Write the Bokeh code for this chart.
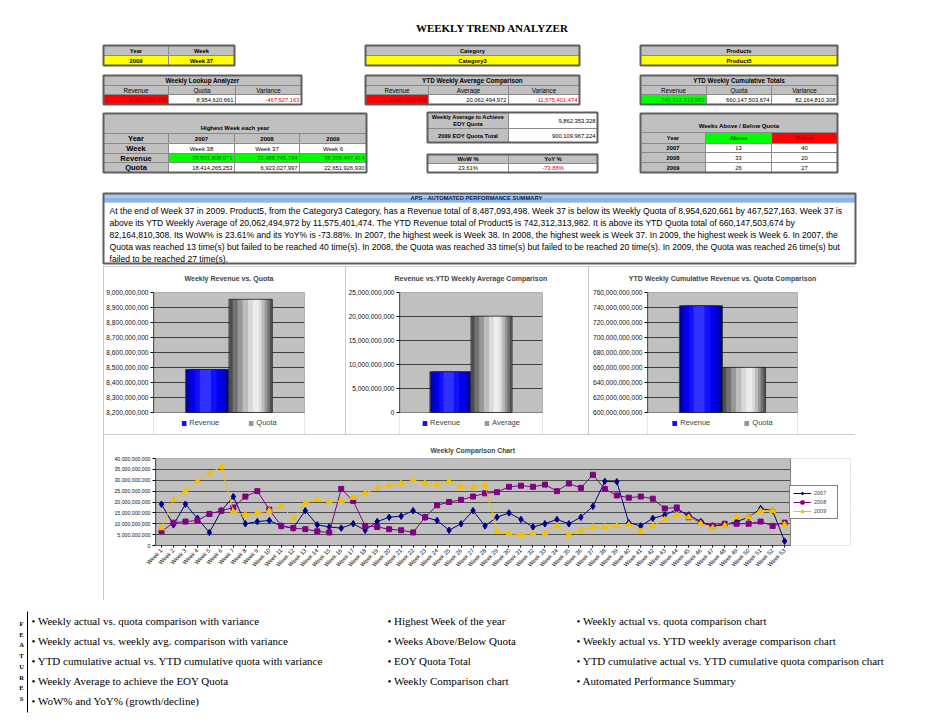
import math
from bokeh.plotting import figure
from bokeh.models import (Range1d, FixedTicker, NumeralTickFormatter,
                          Legend, LegendItem, Spacer)
from bokeh.layouts import column, row
from bokeh.core.properties import value
from bokeh.embed import file_html
from bokeh.resources import INLINE

SANS = "Liberation Sans"
SERIF = "Liberation Serif"

# ------------------------------------------------------------------ data
sel_year = "2009"
sel_week = "Week 37"
sel_category = "Category3"
sel_product = "Product5"

weekly_revenue = 8487093498
weekly_quota = 8954620661
weekly_variance = -467527163

ytd_weekly_avg = 20062494972
ytd_avg_variance = -11575401474

ytd_cum_revenue = 742312313982
ytd_cum_quota = 660147503674
ytd_cum_variance = 82164810308

hw_years = ["2007", "2008", "2009"]
hw_weeks = ["Week 38", "Week 37", "Week 6"]
hw_revenue = [29501608071, 32486745194, 36326447414]
hw_quota = [18414265253, 6923027997, 22651926930]

eoy_weekly_avg = 9862353328
eoy_quota_total = 900109967224
wow_pct = "23.61%"
yoy_pct = "-73.88%"

ab_years = ["2007", "2008", "2009"]
ab_above = [13, 33, 26]
ab_below = [40, 20, 27]

summary_lines = [
    "At the end of Week 37 in 2009. Product5, from the Category3 Category, has a Revenue total of 8,487,093,498. Week 37 is below its Weekly Quota of 8,954,620,661 by 467,527,163. Week 37 is",
    "above its YTD Weekly Average of 20,062,494,972 by 11,575,401,474.  The YTD Revenue total of Product5 is 742,312,313,982. It is above its YTD Quota total of 660,147,503,674 by",
    "82,164,810,308. Its WoW% is 23.61% and its YoY% is -73.88%. In 2007, the highest week is Week 38. In 2008, the highest week is Week 37. In 2009, the highest week is Week 6. In 2007, the",
    "Quota was reached 13 time(s) but failed to be reached 40 time(s). In 2008, the Quota was reached 33 time(s) but failed to be reached 20 time(s). In 2009, the Quota was reached 26 time(s) but",
    "failed to be reached 27 time(s).",
]

week_nums = list(range(1, 54))
weeks = ["Week %d" % i for i in week_nums]
# weekly revenue, billions
rev_2007 = [19, 9.5, 19, 12.5, 6, 16, 22.5, 10, 11, 11.5, 9, 8, 16, 9.5, 8.5, 8, 10, 7,
            11, 13, 13.5, 16, 13, 11.5, 7, 10, 16, 9, 13, 15, 12, 8.5, 10, 12, 10, 13,
            18, 29.5, 29.3, 10.5, 9, 12.5, 14, 16.5, 14, 11, 9, 9.5, 11, 13, 17, 16, 2]
rev_2008 = [6.5, 10.5, 11, 11.5, 14.5, 16, 17.5, 22.5, 25, 16.5, 9, 8, 7.5, 6.5, 6, 26,
            20.5, 9, 8.5, 7.5, 7, 6, 13, 18.5, 20, 21, 22.5, 24, 24.5, 27, 27.5, 27, 28,
            25, 28.5, 26.5, 32.5, 26, 23, 22, 22.5, 21.5, 17, 17.5, 13, 10.5, 9, 10, 10,
            10, 11, 9, 10.5]
rev_2009 = [8, 21, 25, 29.5, 33, 36.3, 15.5, 14, 15, 16, 18, 12.5, 19.5, 21, 20, 20.5,
            22, 24, 26.5, 27.5, 28.5, 30, 28.5, 28, 29.5, 27, 26.5, 28, 6.5, 5.5, 5,
            5.5, 5.5, 9, 5, 7, 8.5, 8.5, 9, 9.5, 6.5, 9, 12, 14, 13, 10, 8, 9, 13, 13,
            16, 16, 9.5]

bar1_names = ["Revenue", "Quota"]
bar1_values = [weekly_revenue, weekly_quota]
bar1_ticks = [8.2e9, 8.3e9, 8.4e9, 8.5e9, 8.6e9, 8.7e9, 8.8e9, 8.9e9, 9.0e9]

bar2_names = ["Revenue", "Average"]
bar2_values = [weekly_revenue, ytd_weekly_avg]
bar2_ticks = [0, 5e9, 10e9, 15e9, 20e9, 25e9]

bar3_names = ["Revenue", "Quota"]
bar3_values = [ytd_cum_revenue, ytd_cum_quota]
bar3_ticks = [600e9, 620e9, 640e9, 660e9, 680e9, 700e9, 720e9, 740e9, 760e9]

line_ticks = [0, 5e9, 10e9, 15e9, 20e9, 25e9, 30e9, 35e9, 40e9]

feat_col1 = ["\u2022 Weekly actual vs. quota comparison with variance",
             "\u2022 Weekly actual vs. weekly avg. comparison with variance",
             "\u2022 YTD cumulative actual vs. YTD cumulative quota with variance",
             "\u2022 Weekly Average to achieve the EOY Quota",
             "\u2022 WoW% and YoY% (growth/decline)"]
feat_col2 = ["\u2022 Highest Week of the year",
             "\u2022 Weeks Above/Below Quota",
             "\u2022 EOY Quota Total",
             "\u2022 Weekly Comparison chart"]
feat_col3 = ["\u2022 Weekly actual vs. quota comparison chart",
             "\u2022 Weekly actual vs. YTD weekly average comparison chart",
             "\u2022 YTD cumulative actual vs. YTD cumulative quota comparison chart",
             "\u2022 Automated Performance Summary"]
feat_letters = list("FEATURES")

# ------------------------------------------------------------------ styles
GRAY = "#c0c0c0"
YELLOW = "#ffff00"
RED = "#ff0000"
GREEN = "#00ff00"
BOX_STYLE = {"outline": "1px solid #b8b8b8", "outline-offset": "-1px"}


def fmt(v):
    return "{:,}".format(v)


def canvas(w, h, x0, y0):
    p = figure(width=w, height=h, x_range=Range1d(x0, x0 + w), y_range=Range1d(y0 + h, y0),
               x_axis_type=None, y_axis_type=None, toolbar_location=None,
               output_backend="svg", min_border=0)
    p.outline_line_color = None
    p.background_fill_color = "white"
    return p


def txt(p, x, y, s, size="6px", bold=False, align="center", color="black",
        font=SANS, baseline="middle"):
    p.text(x=[x], y=[y], text=[s], text_font=value(font), text_font_size=size,
           text_font_style="bold" if bold else "normal", text_align=align,
           text_baseline=baseline, text_color=color)


def table(p, cols, rows, cells):
    for cl in cells:
        r, c = cl["r"], cl["c"]
        span = cl.get("span", 1)
        x0, x1 = cols[c], cols[c + span]
        y0, y1 = rows[r], rows[r + 1]
        p.quad(left=x0, right=x1, top=y0, bottom=y1, fill_color=cl.get("fill", "white"),
               line_color="#8a8a8a", line_width=1)
        align = cl.get("align", "center")
        tx = {"center": (x0 + x1) / 2, "right": x1 - 2, "left": x0 + 2}[align]
        ty = cl.get("ty", (y0 + y1) / 2)
        txt(p, tx, ty, cl["t"], size=cl.get("size", "5.8px"), bold=cl.get("bold", False),
            align=align, color=cl.get("color", "black"))
    p.quad(left=cols[0], right=cols[-1], top=rows[0], bottom=rows[-1], fill_color=None,
           line_color="#5e5e5e", line_width=2)


# ------------------------------------------------------------------ top section
top = canvas(940, 266, 0, 0)
txt(top, 492, 27, "WEEKLY TREND ANALYZER", size="11px", bold=True, font=SERIF)

H = dict(fill=GRAY, bold=True)
table(top, [103, 168, 234], [45, 55, 65], [
    dict(r=0, c=0, t="Year", **H), dict(r=0, c=1, t="Week", **H),
    dict(r=1, c=0, t=sel_year, fill=YELLOW, bold=True),
    dict(r=1, c=1, t=sel_week, fill=YELLOW, bold=True)])
table(top, [365, 579], [45, 55, 65], [
    dict(r=0, c=0, t="Category", **H),
    dict(r=1, c=0, t=sel_category, fill=YELLOW, bold=True)])
table(top, [640, 837], [45, 55, 65], [
    dict(r=0, c=0, t="Products", **H),
    dict(r=1, c=0, t=sel_product, fill=YELLOW, bold=True)])

table(top, [103, 168, 235, 301], [75, 85, 94, 104], [
    dict(r=0, c=0, span=3, t="Weekly Lookup Analyzer", fill=GRAY, bold=True, size="6.3px"),
    dict(r=1, c=0, t="Revenue", fill=GRAY, size="6.3px"),
    dict(r=1, c=1, t="Quota", fill=GRAY, size="6.3px"),
    dict(r=1, c=2, t="Variance", fill=GRAY, size="6.3px"),
    dict(r=2, c=0, t=fmt(weekly_revenue), fill=RED, color="#b00000", align="right"),
    dict(r=2, c=1, t=fmt(weekly_quota), align="right"),
    dict(r=2, c=2, t=fmt(weekly_variance), align="right", color="#e00000")])
table(top, [365, 428, 508, 579], [75, 85, 94, 104], [
    dict(r=0, c=0, span=3, t="YTD Weekly Average Comparison", fill=GRAY, bold=True, size="6.3px"),
    dict(r=1, c=0, t="Revenue", fill=GRAY, size="6.3px"),
    dict(r=1, c=1, t="Average", fill=GRAY, size="6.3px"),
    dict(r=1, c=2, t="Variance", fill=GRAY, size="6.3px"),
    dict(r=2, c=0, t=fmt(weekly_revenue), fill=RED, color="#b00000", align="right"),
    dict(r=2, c=1, t=fmt(ytd_weekly_avg), align="right"),
    dict(r=2, c=2, t=fmt(ytd_avg_variance), align="right", color="#e00000")])
table(top, [640, 706, 771, 837], [75, 85, 94, 104], [
    dict(r=0, c=0, span=3, t="YTD Weekly Cumulative Totals", fill=GRAY, bold=True, size="6.3px"),
    dict(r=1, c=0, t="Revenue", fill=GRAY, size="6.3px"),
    dict(r=1, c=1, t="Quota", fill=GRAY, size="6.3px"),
    dict(r=1, c=2, t="Variance", fill=GRAY, size="6.3px"),
    dict(r=2, c=0, t=fmt(ytd_cum_revenue), fill=GREEN, color="#007a00", align="right"),
    dict(r=2, c=1, t=fmt(ytd_cum_quota), align="right"),
    dict(r=2, c=2, t=fmt(ytd_cum_variance), align="right")])

hw_cells = [dict(r=0, c=0, span=4, t="Highest Week each year", fill=GRAY, bold=True,
                 ty=127, size="6px")]
for lab_i, lab in enumerate(["Year", "Week", "Revenue", "Quota"]):
    hw_cells.append(dict(r=lab_i + 1, c=0, t=lab, fill=GRAY, bold=True, size="7.5px"))
for i in range(3):
    hw_cells.append(dict(r=1, c=i + 1, t=hw_years[i], fill=GRAY, bold=True, size="6px"))
    hw_cells.append(dict(r=2, c=i + 1, t=hw_weeks[i], size="6px"))
    hw_cells.append(dict(r=3, c=i + 1, t=fmt(hw_revenue[i]), fill=GREEN, color="#006e00",
                         align="right"))
    hw_cells.append(dict(r=4, c=i + 1, t=fmt(hw_quota[i]), align="right"))
table(top, [103, 168, 234, 299, 366], [113, 133, 143, 153, 162, 172], hw_cells)

table(top, [427, 508, 597], [112, 128, 142], [
    dict(r=0, c=0, t="Weekly Average to Achieve\nEOY Quota", fill=GRAY, bold=True, size="5.6px"),
    dict(r=0, c=1, t=fmt(eoy_weekly_avg), align="right"),
    dict(r=1, c=0, t="2009 EOY Quota Total", fill=GRAY, bold=True, size="5.8px"),
    dict(r=1, c=1, t=fmt(eoy_quota_total), align="right")])
table(top, [427, 508, 597], [154, 163, 172], [
    dict(r=0, c=0, t="WoW %", fill=GRAY, bold=True),
    dict(r=0, c=1, t="YoY %", fill=GRAY, bold=True),
    dict(r=1, c=0, t=wow_pct),
    dict(r=1, c=1, t=yoy_pct, color="#e00000")])

ab_cells = [dict(r=0, c=0, span=3, t="Weeks Above / Below Quota", fill=GRAY, bold=True,
                 ty=125, size="6px"),
            dict(r=1, c=0, t="Year", fill=GRAY, bold=True),
            dict(r=1, c=1, t="Above", fill=GREEN, color="#006e00", bold=True),
            dict(r=1, c=2, t="Below", fill=RED, color="#a00000", bold=True)]
for i in range(3):
    ab_cells.append(dict(r=i + 2, c=0, t=ab_years[i], fill=GRAY, bold=True))
    ab_cells.append(dict(r=i + 2, c=1, t=str(ab_above[i])))
    ab_cells.append(dict(r=i + 2, c=2, t=str(ab_below[i])))
table(top, [640, 705, 771, 837], [113, 132, 143, 152, 162, 172], ab_cells)

# APS summary
top.quad(left=103, right=855, top=193, bottom=263, fill_color="white", line_color=None)
top.quad(left=103, right=855, top=193, bottom=202, fill_color="#a9c8ee", line_color=None)
top.quad(left=103, right=855, top=197.5, bottom=202, fill_color="#8fb5e6", line_color=None)
top.quad(left=103, right=855, top=193, bottom=263, fill_color=None, line_color="#5e5e5e",
         line_width=2)
txt(top, 476, 197.5, "APS - AUTOMATED PERFORMANCE SUMMARY", size="5.8px", bold=True,
    color="#10204a")
for i, line in enumerate(summary_lines):
    txt(top, 109, 210 + i * 12.2, line, size="8.6px", align="left")


# ------------------------------------------------------------------ bar charts
BLUE_LAYERS = [(1.0, "#000090"), (0.9, "#0000c8"), (0.74, "#0000ee"), (0.5, "#1010ff"),
               (0.26, "#3030ff")]
GRAY_LAYERS = [(1.0, "#4e4e4e"), (0.88, "#727272"), (0.7, "#989898"), (0.52, "#bcbcbc"),
               (0.32, "#dadada"), (0.14, "#ececec")]
XL = 1.74
PLOT_PX = 120.0
LEG_PX = 22.0


def cylinder(p, x, top_v, base, layers, skew):
    rs = []
    for frac, col in layers:
        shift = skew * (1 - frac)
        rs.append(p.vbar(x=[x + shift], top=[top_v], bottom=base, width=frac * 0.98,
                         fill_color=col, line_color=None))
    p.vbar(x=[x], top=[top_v], bottom=base, width=1.0, fill_color=None,
           line_color="#202020", line_width=0.8)
    return rs


def style_axis(ax, size):
    ax.major_label_text_font = SANS
    ax.major_label_text_font_size = size
    ax.major_label_text_color = "#111111"
    ax.axis_line_color = None
    ax.major_tick_line_color = "#000000"
    ax.major_tick_out = 3
    ax.major_tick_in = 0
    ax.minor_tick_line_color = None
    ax.major_label_standoff = 2


def bar_chart(title, w, mbl, mbr, names, vals, ticks, leg_spacing):
    base, topv = ticks[0], ticks[-1]
    ext = (topv - base) * LEG_PX / PLOT_PX
    p = figure(width=w, height=168, x_range=Range1d(-XL, XL),
               y_range=Range1d(base - ext, topv), x_axis_location=None,
               toolbar_location=None, output_backend="svg",
               min_border_left=mbl, min_border_right=mbr, min_border_top=26,
               min_border_bottom=0)
    p.styles = BOX_STYLE
    p.title.text = title
    p.title.align = "center"
    p.title.vertical_align = "top"
    p.title.text_font = SANS
    p.title.text_font_size = "7px"
    p.title.text_font_style = "bold"
    p.title.standoff = 17
    p.background_fill_color = GRAY
    p.border_fill_color = "white"
    p.outline_line_color = None
    p.xgrid.visible = False
    p.ygrid.grid_line_color = "#1e1e1e"
    p.ygrid.grid_line_width = 0.8
    p.yaxis.ticker = FixedTicker(ticks=ticks)
    p.yaxis.formatter = NumeralTickFormatter(format="0,0")
    style_axis(p.yaxis[0], "6.6px")
    # white legend strip below the plot area
    p.quad(left=-XL, right=XL, bottom=base - ext, top=base, fill_color="white",
           line_color=None)
    p.quad(left=-XL, right=XL, bottom=base, top=topv, fill_color=None,
           line_color="#808080", line_width=1)
    p.segment(x0=[-XL], y0=[base], x1=[-XL], y1=[topv], line_color="black", line_width=1.2)
    r_rev = cylinder(p, -0.5, vals[0], base, BLUE_LAYERS, -0.06)
    r_oth = cylinder(p, 0.5, vals[1], base, GRAY_LAYERS, 0.14)
    leg = Legend(items=[LegendItem(label=names[0], renderers=[r_rev[3]]),
                        LegendItem(label=names[1], renderers=[r_oth[2]])],
                 orientation="horizontal", location="bottom_center", spacing=leg_spacing,
                 padding=1, margin=7, glyph_width=6, glyph_height=6, label_height=8,
                 label_standoff=3, label_text_font=SANS, label_text_font_size="7.5px",
                 background_fill_alpha=0, border_line_color=None)
    p.add_layout(leg)
    return p


c1 = bar_chart("Weekly Revenue vs. Quota", 242, 49, 41, bar1_names, bar1_values,
               bar1_ticks, 28)
c2 = bar_chart("Revenue vs.YTD Weekly Average Comparison", 243, 50, 46, bar2_names,
               bar2_values, bar2_ticks, 23)
c3 = bar_chart("YTD Weekly Cumulative Revenue vs. Quota Comparison", 267, 59, 58,
               bar3_names, bar3_values, bar3_ticks, 33)

# ------------------------------------------------------------------ line chart
X_LEG = 5.0   # extra x units at right of the plot area, kept for the legend
lc = figure(width=752, height=166, x_range=Range1d(0.5, 53.5 + X_LEG),
            y_range=Range1d(line_ticks[0], line_ticks[-1]),
            toolbar_location=None, output_backend="svg", min_border_left=52,
            min_border_right=5, min_border_top=24, min_border_bottom=55)
lc.styles = BOX_STYLE
lc.title.text = "Weekly Comparison Chart"
lc.title.align = "left"
lc.title.offset = 275
lc.title.text_font = SANS
lc.title.text_font_size = "6.8px"
lc.title.text_font_style = "bold"
lc.title.standoff = 10
lc.background_fill_color = GRAY
lc.outline_line_color = None
lc.xgrid.visible = False
lc.ygrid.grid_line_color = "#1e1e1e"
lc.ygrid.grid_line_width = 0.7
lc.yaxis.ticker = FixedTicker(ticks=line_ticks)
lc.yaxis.formatter = NumeralTickFormatter(format="0,0")
style_axis(lc.yaxis[0], "5.2px")
lc.xaxis.ticker = FixedTicker(ticks=week_nums)
lc.xaxis.major_label_overrides = {n: w for n, w in zip(week_nums, weeks)}
style_axis(lc.xaxis[0], "5.8px")
lc.xaxis.major_label_orientation = math.pi / 4
lc.xaxis.major_tick_out = 2
lc.quad(left=53.5, right=53.5 + X_LEG, bottom=line_ticks[0], top=line_ticks[-1],
        fill_color="white", line_color=None)
lc.quad(left=0.5, right=53.5, bottom=line_ticks[0], top=line_ticks[-1], fill_color=None,
        line_color="#808080", line_width=1)
lc.segment(x0=[0.5, 0.5], y0=[0, 0], x1=[0.5, 53.5], y1=[line_ticks[-1], 0],
           line_color="black", line_width=1.2)

series = [("2007", rev_2007, "#000080", "diamond", 6.5),
          ("2008", rev_2008, "#800080", "square", 5),
          ("2009", rev_2009, "#f2c200", "triangle", 6)]
items = []
for name, vals, col, marker, sz in series:
    ys = [v * 1e9 for v in vals]
    ln = lc.line(week_nums, ys, line_color=col, line_width=1)
    sc = lc.scatter(week_nums, ys, marker=marker, size=sz, fill_color=col, line_color=col)
    items.append(LegendItem(label=name, renderers=[ln, sc]))
lleg = Legend(items=items, location="center_right", orientation="vertical", padding=3,
              margin=12, spacing=1, glyph_width=18, glyph_height=8, label_height=8,
              label_standoff=3, label_text_font=SANS, label_text_font_size="5.5px",
              border_line_color="#000000", border_line_width=0.7,
              background_fill_color="white", background_fill_alpha=1)
lc.add_layout(lleg)

# ------------------------------------------------------------------ features
feat = canvas(940, 120, 0, 600)
feat.segment(x0=[27], y0=[611], x1=[27], y1=[712], line_color="#000000", line_width=1)
for i, ch in enumerate(feat_letters):
    txt(feat, 21, 623 + i * 10.7, ch, size="6.5px", bold=True, font=SERIF)
col_x = [31, 387, 576]
for cx, col_items in zip(col_x, [feat_col1, feat_col2, feat_col3]):
    for i, s in enumerate(col_items):
        txt(feat, cx, 620 + i * 20.2, s, size="11px", align="left", font=SERIF)

layout = column(
    top,
    row(Spacer(width=103, height=168), c1, c2, c3),
    row(Spacer(width=103, height=166), lc),
    feat,
)

open("out.html", "w").write(file_html(layout, INLINE))
